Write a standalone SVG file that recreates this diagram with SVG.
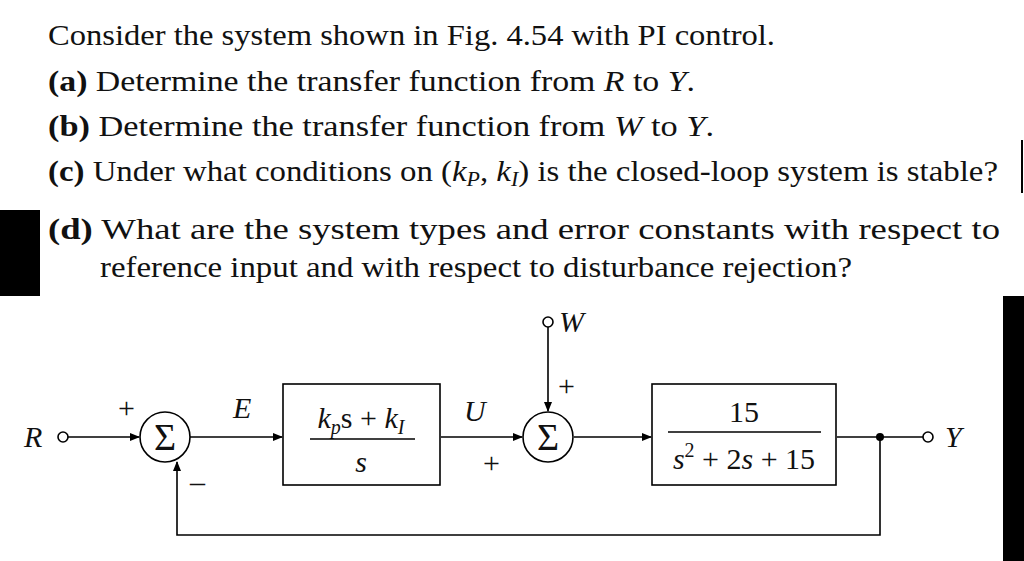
<svg xmlns="http://www.w3.org/2000/svg" width="1024" height="561" viewBox="0 0 1024 561">
<defs><marker id="ar" markerWidth="10" markerHeight="8" refX="9" refY="4" orient="auto" markerUnits="userSpaceOnUse"><path d="M0,0 L10,4 L0,8 Z" fill="#000"/></marker></defs>
<style>
text{font-family:"Liberation Serif","Times New Roman",serif;fill:#111}
.b{font-weight:bold}
.i{font-style:italic}
.ln{stroke:#000;stroke-width:1.6;fill:none}
.bx{stroke:#000;stroke-width:1.6;fill:#fff}
</style>
<rect width="1024" height="561" fill="#fff"/>
<rect x="0" y="210" width="40" height="86" fill="#000"/>
<rect x="1003" y="296" width="21" height="265" fill="#000"/>
<line x1="1022" y1="140" x2="1022" y2="193" stroke="#000" stroke-width="2"/>
<g font-size="30">
<text x="48" y="45" textLength="727" lengthAdjust="spacingAndGlyphs">Consider the system shown in Fig. 4.54 with PI control.</text>
<text x="48" y="91" textLength="647" lengthAdjust="spacingAndGlyphs"><tspan class="b">(a)</tspan> Determine the transfer function from <tspan class="i">R</tspan> to <tspan class="i">Y</tspan>.</text>
<text x="48" y="136" textLength="666" lengthAdjust="spacingAndGlyphs"><tspan class="b">(b)</tspan> Determine the transfer function from <tspan class="i">W</tspan> to <tspan class="i">Y</tspan>.</text>
<text x="48" y="181" textLength="950" lengthAdjust="spacingAndGlyphs"><tspan class="b">(c)</tspan> Under what conditions on (<tspan class="i">k</tspan><tspan class="i" font-size="20" dy="5">P</tspan><tspan dy="-5">, </tspan><tspan class="i">k</tspan><tspan class="i" font-size="20" dy="5">I</tspan><tspan dy="-5">) is the closed-loop system is stable?</tspan></text>
<text x="48" y="239" textLength="952" lengthAdjust="spacingAndGlyphs"><tspan class="b">(d)</tspan> What are the system types and error constants with respect to</text>
<text x="100" y="277" textLength="752" lengthAdjust="spacingAndGlyphs">reference input and with respect to disturbance rejection?</text>
</g>
<g id="connectors">
<line class="ln" x1="67" y1="437" x2="139" y2="437" marker-end="url(#ar)"/>
<line class="ln" x1="190" y1="437" x2="282" y2="437" marker-end="url(#ar)"/>
<line class="ln" x1="441" y1="437" x2="522" y2="437" marker-end="url(#ar)"/>
<line class="ln" x1="548" y1="327" x2="548" y2="411" marker-end="url(#ar)"/>
<line class="ln" x1="574" y1="437" x2="651" y2="437" marker-end="url(#ar)"/>
<line class="ln" x1="837" y1="437" x2="923" y2="437"/>
<polyline class="ln" points="880,437 880,535 177,535 177,462" marker-end="url(#ar)"/>
<circle cx="880" cy="437" r="4" fill="#000"/>
</g>
<g font-size="30">
<g id="R"><circle class="bx" cx="63" cy="437" r="5"/><text class="i" x="24" y="447">R</text></g>
<g id="Y"><circle class="bx" cx="928" cy="437" r="5"/><text class="i" x="945" y="447">Y</text></g>
<g id="W"><circle class="bx" cx="548" cy="322" r="5"/><text class="i" x="559" y="332">W</text></g>
<g id="sum1"><circle class="bx" cx="165" cy="437" r="25"/><text font-size="38" x="165" y="450" text-anchor="middle">Σ</text><text x="118" y="418">+</text><text x="190" y="492">–</text></g>
<g id="sum2"><circle class="bx" cx="548" cy="437" r="25"/><text font-size="38" x="548" y="450" text-anchor="middle">Σ</text><text x="558" y="396">+</text><text x="483" y="473">+</text></g>
<text class="i" x="233" y="418">E</text>
<text class="i" x="464" y="421">U</text>
<g id="ctrl"><rect class="bx" x="283" y="384" width="157" height="101"/>
<text class="i" x="361" y="428" text-anchor="middle">k<tspan font-size="20" dy="6">p</tspan><tspan dy="-6" font-style="normal">s + </tspan>k<tspan font-size="20" dy="6">I</tspan></text>
<line class="ln" x1="310" y1="439" x2="415" y2="439"/>
<text class="i" x="361" y="472" text-anchor="middle">s</text></g>
<g id="plant"><rect class="bx" x="652" y="384" width="184" height="101"/>
<text x="744" y="422" text-anchor="middle">15</text>
<line class="ln" x1="668" y1="432" x2="821" y2="432"/>
<text x="744" y="469" text-anchor="middle"><tspan class="i">s</tspan><tspan font-size="20" dy="-12">2</tspan><tspan dy="12"> + 2</tspan><tspan class="i">s</tspan> + 15</text></g>
</g>
</svg>
